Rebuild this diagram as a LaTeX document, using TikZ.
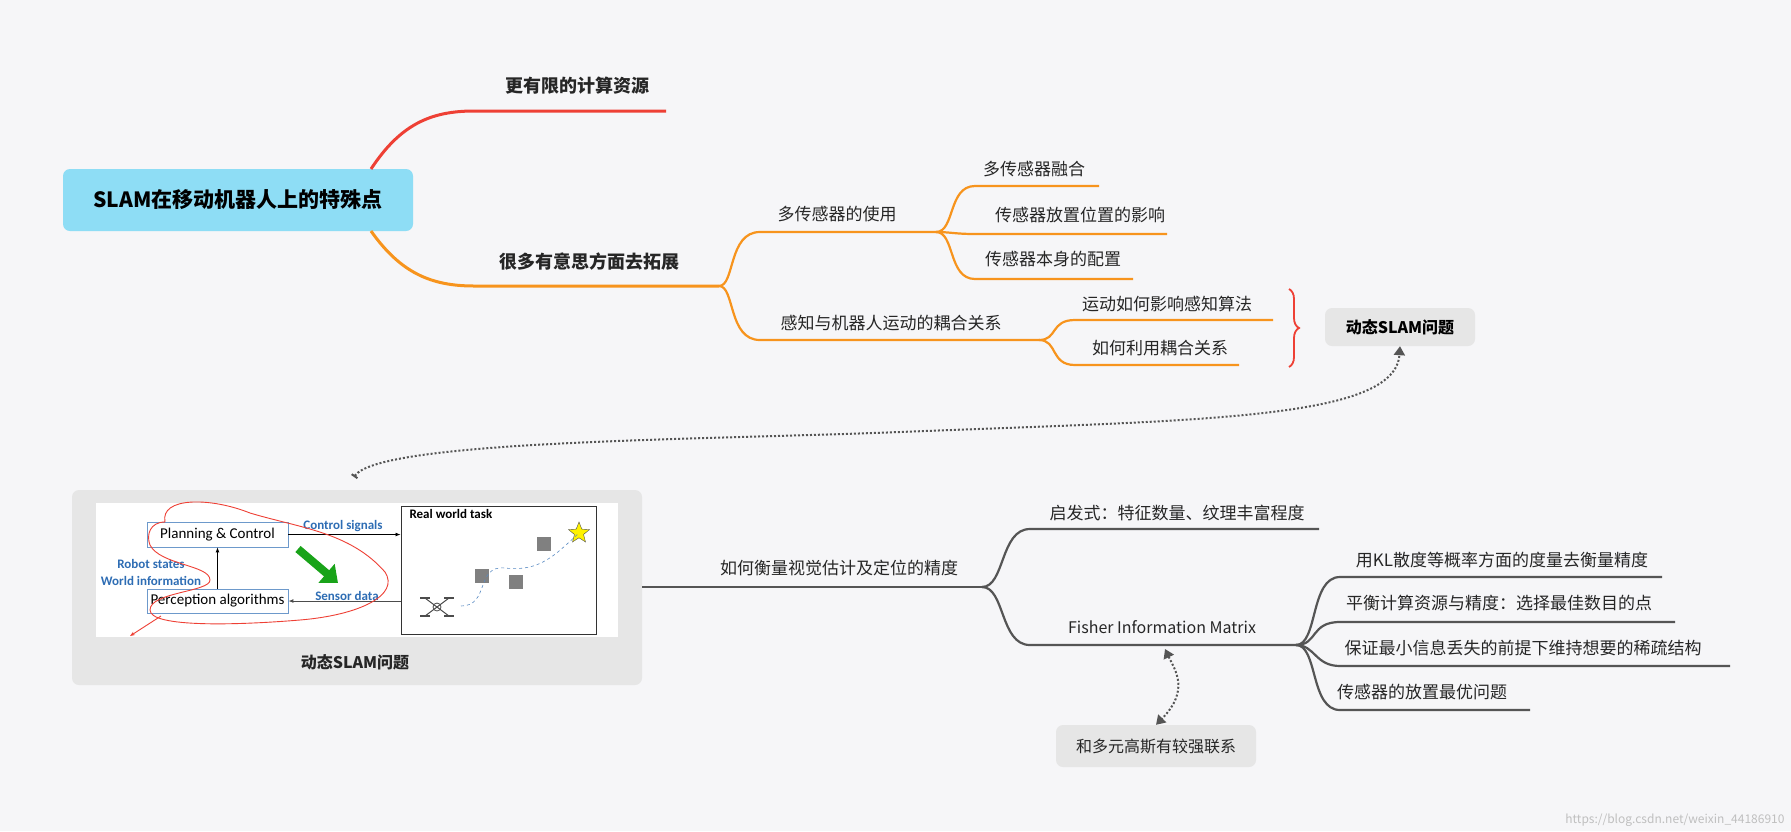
\documentclass[tikz,border=0pt]{standalone}
\usepackage{fontspec}
\setmainfont{Noto Sans CJK SC}
\newfontfamily\latin{Carlito}
\usetikzlibrary{arrows.meta,shapes.geometric,decorations.pathreplacing}
\definecolor{bg}{HTML}{F6F6F8}
\definecolor{redb}{HTML}{EE4035}
\definecolor{orb}{HTML}{F7941D}
\definecolor{dk}{HTML}{555555}
\definecolor{root}{HTML}{8EDDF5}
\definecolor{gbox}{HTML}{E6E6E6}
\definecolor{bl}{HTML}{2E6DB4}
\begin{document}
\begin{tikzpicture}[x=1pt,y=-1pt,
  leaf/.style={font=\fontsize{17}{20}\selectfont,text=black!85,anchor=base},
  bold/.style={font=\fontsize{18}{22}\selectfont\bfseries,text=black!85,anchor=base},
  ol/.style={orb,line width=2.2pt},
  gl/.style={dk,line width=2.2pt},
  gnode/.style={fill=gbox,rounded corners=7pt,inner sep=0pt},
  ib/.style={draw=bl!70,line width=0.6pt,minimum width=141pt,inner sep=0pt,font=\latin\fontsize{15}{17}\selectfont}]
\useasboundingbox (0,0) rectangle (1791,831);
\fill[bg] (0,0) rectangle (1791,831);
% root
\node[fill=root,rounded corners=7pt,minimum width=350pt,minimum height=62pt,font=\fontsize{21}{24}\selectfont\bfseries] (root) at (238,200) {SLAM在移动机器人上的特殊点};
% branch 1
\coordinate (b1s) at (474,111); \coordinate (b1e) at (666,111);
\draw[redb,line width=3pt] (371,169) .. controls (400,125) and (430,111) .. (b1s) -- (b1e);
\node[bold] (b1) at (577,92) {更有限的计算资源};
% branch 2
\coordinate (b2s) at (474,286); \coordinate (b2e) at (719,286);
\draw[orb,line width=3pt] (371,231) .. controls (400,272) and (430,286) .. (b2s) -- (b2e);
\node[bold] (b2) at (589,268) {很多有意思方面去拓展};
% sub 1
\draw[ol] (b2e) .. controls (735,286) and (728,232) .. (760,232) -- (936,232);
\node[leaf] (s1) at (837,220) {多传感器的使用};
\draw[ol] (936,232) .. controls (955,232) and (948,186) .. (975,186) -- (1099,186);
\node[leaf] (l1) at (1034,175) {多传感器融合};
\draw[ol] (936,232) .. controls (950,232) and (955,234) .. (975,234) -- (1167,234);
\node[leaf] (l2) at (1080,221) {传感器放置位置的影响};
\draw[ol] (936,232) .. controls (955,232) and (948,279) .. (975,279) -- (1133,279);
\node[leaf] (l3) at (1053,265) {传感器本身的配置};
% sub 2
\draw[ol] (b2e) .. controls (735,286) and (728,340) .. (760,340) -- (1039,340);
\node[leaf] (s2) at (891,329) {感知与机器人运动的耦合关系};
\draw[ol] (1039,340) .. controls (1058,340) and (1050,320) .. (1075,320) -- (1273,320);
\node[leaf] (l4) at (1167,310) {运动如何影响感知算法};
\draw[ol] (1039,340) .. controls (1058,340) and (1050,365) .. (1075,365) -- (1239,365);
\node[leaf] (l5) at (1160,354) {如何利用耦合关系};
\draw[redb,line width=1.8pt,decorate,decoration={brace,amplitude=10pt}] (1289,289) -- (1289,367);
\node[gnode,minimum width=150pt,minimum height=38pt,font=\fontsize{16}{19}\selectfont\bfseries] (dyn) at (1400,327) {动态SLAM问题};
% inset
\node[gnode,minimum width=570pt,minimum height=195pt] (inset) at (357,587.5) {};
\fill[white] (96,503) rectangle (618,637);
\node[ib,minimum height=25pt] (pc) at (217.5,534.5) {Planning \& Control};
\node[ib,minimum height=24pt] (pa) at (217.5,601) {Perception algorithms};
\node[draw=black!80,line width=0.8pt,minimum width=195pt,minimum height=128pt,inner sep=0pt] (rw) at (498.5,570) {};
\node[font=\latin\fontsize{13}{15}\selectfont\bfseries,anchor=west] (rwt) at (406,514) {Real world task};
\draw[-{Latex[length=5pt]},line width=0.7pt] (pc.east) -- (pc.east -| rw.west);
\draw[-{Latex[length=5pt]},line width=0.9pt,black!70] (pa.east -| rw.west) -- (pa.east);
\draw[-{Latex[length=5pt]},line width=0.7pt] (pa.north) -- (pc.south);
\node[font=\latin\fontsize{13}{14}\selectfont\bfseries,text=bl] (cs) at (343,526) {Control signals};
\node[font=\latin\fontsize{13}{14}\selectfont\bfseries,text=bl] (sd) at (347,596) {Sensor data};
\node[font=\latin\fontsize{13}{17}\selectfont\bfseries,text=bl,align=center] (rs) at (151,572) {Robot states\\World information};
\draw[green!60!black!90,line width=8pt,-{Triangle[length=15pt,width=24pt]}] (298,549) -- (338,583);
\fill[gray] (537,537) rectangle (551,551);
\fill[gray] (475,569) rectangle (489,583);
\fill[gray] (509,575) rectangle (523,589);
\node[star,star points=5,star point ratio=2.3,fill=yellow,draw=black!70,minimum size=22pt,inner sep=0pt] (st) at (579,533) {};
\coordinate (dr) at (437,607);
\draw[bl!80,dashed,line width=0.6pt] (461,606) .. controls (490,606) and (475,565) .. (505,568) .. controls (540,572) and (555,555) .. (st.center);
\draw[black!70,line width=1pt] (dr) ++(-12,-9) -- ++(24,18) (dr) ++(12,-9) -- ++(-24,18);
\foreach \a/\b in {-12/-9,12/-9,-12/9,12/9} \draw[black!70,line width=1.5pt] (dr) ++(\a,\b) ++(-5,0) -- ++(10,0);
\draw[black!70,line width=0.8pt] (dr) circle (4);
\draw[redb,line width=0.9pt] (165,522) .. controls (160,497) and (210,497) .. (250,513) .. controls (300,528) and (350,532) .. (385,572) .. controls (400,595) and (360,615) .. (300,620) .. controls (240,625) and (150,628) .. (150,610) .. controls (150,592) and (210,592) .. (210,580) .. controls (210,565) and (160,565) .. (150,545) .. controls (146,535) and (150,522) .. (165,522);
\coordinate (rt) at (130,636);
\draw[redb,line width=0.9pt,-{Stealth[length=5pt]}] (161,616) -- (rt);
\node[font=\fontsize{16}{19}\selectfont\bfseries,text=black!85] (cap) at (355,662) {动态SLAM问题};
% right tree
\draw[gl] (inset.east |- 0,587) -- (982,587);
\node[leaf] (m) at (839,574) {如何衡量视觉估计及定位的精度};
\draw[gl] (982,587) .. controls (1005,587) and (1000,529) .. (1030,529) -- (1319,529);
\node[leaf] (h) at (1177,519) {启发式：特征数量、纹理丰富程度};
\draw[gl] (982,587) .. controls (1005,587) and (1000,645) .. (1030,645) -- (1296,645);
\node[leaf,font=\fontsize{16}{19}\selectfont] (fim) at (1162,633) {Fisher Information Matrix};
\draw[gl] (1296,645) .. controls (1318,645) and (1310,577) .. (1340,577) -- (1662,577);
\node[leaf] (f1) at (1502,566) {用KL散度等概率方面的度量去衡量精度};
\draw[gl] (1296,645) .. controls (1318,645) and (1310,622) .. (1340,622) -- (1675,622);
\node[leaf] (f2) at (1499,609) {平衡计算资源与精度：选择最佳数目的点};
\draw[gl] (1296,645) .. controls (1315,645) and (1315,666) .. (1340,666) -- (1730,666);
\node[leaf] (f3) at (1523,654) {保证最小信息丢失的前提下维持想要的稀疏结构};
\draw[gl] (1296,645) .. controls (1318,645) and (1310,710) .. (1340,710) -- (1530,710);
\node[leaf] (f4) at (1422,698) {传感器的放置最优问题};
\node[gnode,minimum width=200pt,minimum height=42pt,font=\fontsize{16}{19}\selectfont,text=black!85] (gs) at (1156,746) {和多元高斯有较强联系};
% dotted connectors
\draw[dk,line width=2pt,dotted,{Bar[width=7pt]}-{Triangle[length=9pt,width=11pt]}] (354,477) .. controls (380,440) and (700,440) .. (900,432) .. controls (1200,420) and (1395,420) .. (dyn.south);
\draw[dk,line width=2pt,dotted,{Triangle[length=9pt,width=11pt]}-{Triangle[length=9pt,width=11pt]}] (1165,649) .. controls (1175,670) and (1190,690) .. (gs.north);
\node[font=\fontsize{12}{14}\selectfont,text=black!25,anchor=east] (wm) at (1788,820) {https://blog.csdn.net/weixin\_44186910};
\end{tikzpicture}
\end{document}
